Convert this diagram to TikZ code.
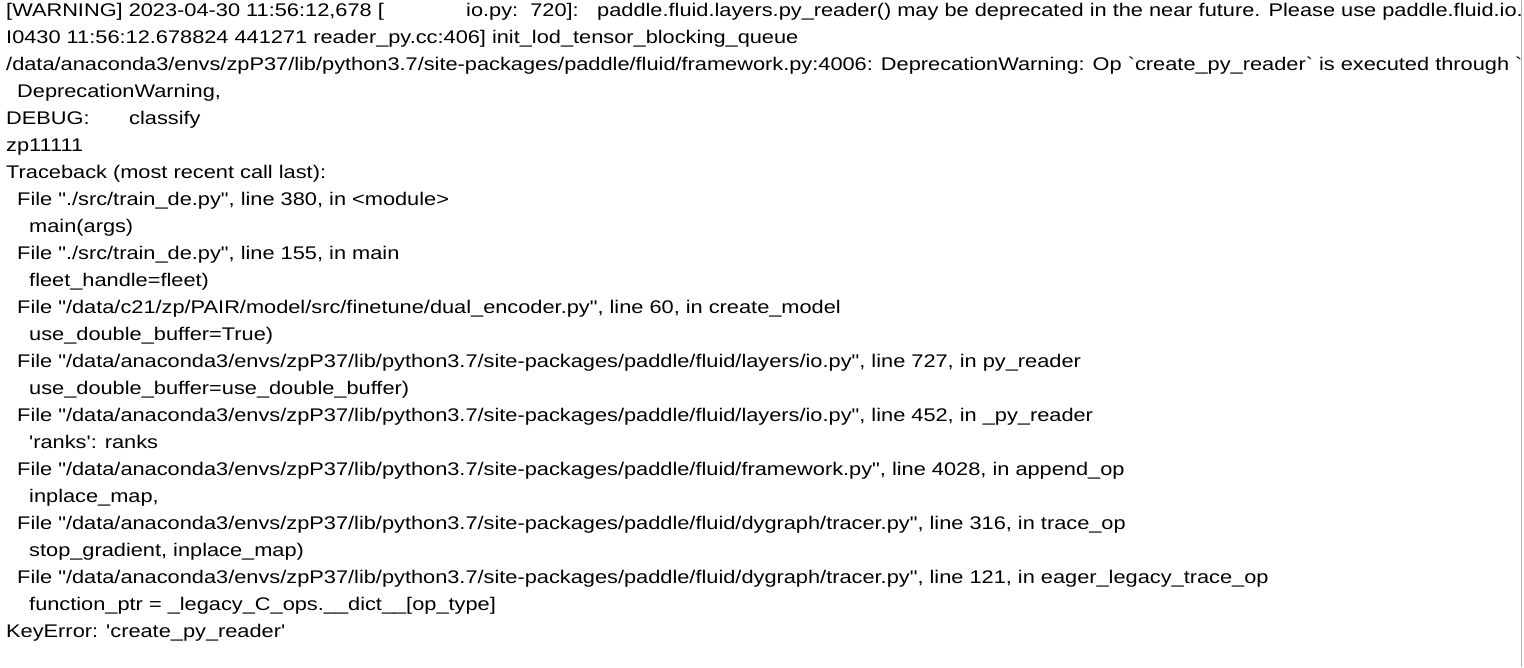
\documentclass[tikz,border=0pt]{standalone}
\usepackage{fontspec}
\setmainfont{Liberation Sans}[Ligatures=TeXOff,FakeStretch=1.19]
\begin{document}
\begin{tikzpicture}[x=1pt,y=-1pt,t/.style={anchor=base west,inner sep=0pt,font=\fontsize{18.3}{20}\selectfont}]
\useasboundingbox (0,0) rectangle (1524,667);
\fill[white] (0,0) rectangle (1524,667);
\begin{scope}
\clip (0,0) rectangle (1521,667);
\node[t] (l1a) at (6,16) {[WARNING] 2023-04-30 11:56:12,678 [};
\node[t] (l1b) at (466,16) {io.py:\ \ 720]:};
\node[t] (l1c) at (597,16) {paddle.fluid.layers.py\_reader() may be deprecated in the near future. Please use paddle.fluid.io.DataLoader.from\_generator() instead.};
\node[t] (l2) at (6,43) {I0430 11:56:12.678824 441271 reader\_py.cc:406] init\_lod\_tensor\_blocking\_queue};
\node[t] (l3) at (6,70) {/data/anaconda3/envs/zpP37/lib/python3.7/site-packages/paddle/fluid/framework.py:4006: DeprecationWarning: Op `create\_py\_reader` is executed through `append\_op` ...};
\node[t] (l4) at (17,97) {DeprecationWarning,};
\node[t] (l5a) at (6,124) {DEBUG:};
\node[t] (l5b) at (129,124) {classify};
\node[t] (l6) at (6,151) {zp11111};
\node[t] (l7) at (6,178) {Traceback (most recent call last):};
\node[t] (l8) at (17,205) {File "./src/train\_de.py", line 380, in <module>};
\node[t] (l9) at (29,232) {main(args)};
\node[t] (l10) at (17,259) {File "./src/train\_de.py", line 155, in main};
\node[t] (l11) at (29,286) {fleet\_handle=fleet)};
\node[t] (l12) at (17,313) {File "/data/c21/zp/PAIR/model/src/finetune/dual\_encoder.py", line 60, in create\_model};
\node[t] (l13) at (29,340) {use\_double\_buffer=True)};
\node[t] (l14) at (17,367) {File "/data/anaconda3/envs/zpP37/lib/python3.7/site-packages/paddle/fluid/layers/io.py", line 727, in py\_reader};
\node[t] (l15) at (29,394) {use\_double\_buffer=use\_double\_buffer)};
\node[t] (l16) at (17,421) {File "/data/anaconda3/envs/zpP37/lib/python3.7/site-packages/paddle/fluid/layers/io.py", line 452, in \_py\_reader};
\node[t] (l17) at (29,448) {'ranks': ranks};
\node[t] (l18) at (17,475) {File "/data/anaconda3/envs/zpP37/lib/python3.7/site-packages/paddle/fluid/framework.py", line 4028, in append\_op};
\node[t] (l19) at (29,502) {inplace\_map,};
\node[t] (l20) at (17,529) {File "/data/anaconda3/envs/zpP37/lib/python3.7/site-packages/paddle/fluid/dygraph/tracer.py", line 316, in trace\_op};
\node[t] (l21) at (29,556) {stop\_gradient, inplace\_map)};
\node[t] (l22) at (17,583) {File "/data/anaconda3/envs/zpP37/lib/python3.7/site-packages/paddle/fluid/dygraph/tracer.py", line 121, in eager\_legacy\_trace\_op};
\node[t] (l23) at (29,610) {function\_ptr = \_legacy\_C\_ops.\_\_dict\_\_[op\_type]};
\node[t] (l24) at (6,637) {KeyError: 'create\_py\_reader'};
\end{scope}
\draw[gray!60,line width=1pt] (1521.5,0) -- (1521.5,667);
\end{tikzpicture}
\end{document}
